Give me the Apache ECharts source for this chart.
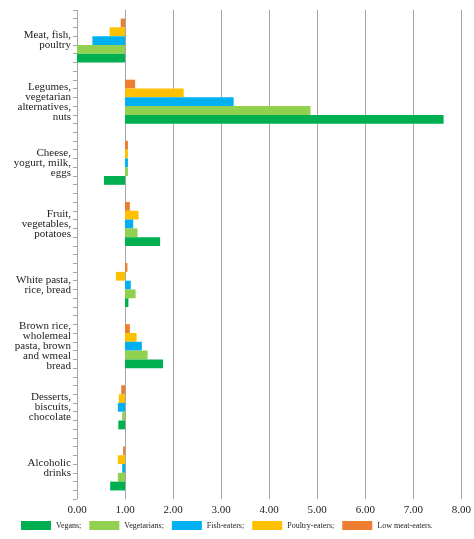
<!DOCTYPE html>
<html>
<head>
    <meta charset="utf-8">
    <title>food ratios</title>
    <style>
        html,body,#myCanvas{ height:100%; width:100%; padding:0; margin:0; background:#fff; }
    </style>
</head>
<body>
    <div id="myCanvas"></div>
    <script src="https://cdn.jsdelivr.net/npm/echarts@6/dist/echarts.min.js"></script>
    <script>
        const categories = ['Meat, fish,\npoultry', 'Legumes,\nvegetarian\nalternatives,\nnuts', 'Cheese,\nyogurt, milk,\neggs',
            'Fruit,\nvegetables,\npotatoes', 'White pasta,\nrice, bread', 'Brown rice,\nwholemeal\npasta, brown\nand wmeal\nbread',
            'Desserts,\nbiscuits,\nchocolate', 'Alcoholic\ndrinks']
        const vegans      = [0.00, 7.63, 0.56, 1.73, 1.07, 1.79, 0.86, 0.69]
        const vegetarians = [0.00, 4.86, 1.06, 1.26, 1.22, 1.47, 0.94, 0.85]
        const fishEaters  = [0.32, 3.26, 1.06, 1.17, 1.12, 1.35, 0.85, 0.94]
        const poultry     = [0.68, 2.22, 1.06, 1.28, 0.81, 1.24, 0.87, 0.85]
        const lowMeat     = [0.91, 1.21, 1.06, 1.10, 1.05, 1.10, 0.92, 0.96]
        const base = 1.0 // bars grow from 1.00

        const names = ['Vegans;', 'Vegetarians;', 'Fish-eaters;', 'Poultry-eaters;', 'Low meat-eaters.']
        const colors = ['#00b050', '#92d050', '#00b0f0', '#ffc000', '#ed7d31']
        const sets = [vegans, vegetarians, fishEaters, poultry, lowMeat]

        // top of each group is low meat-eaters, so push series in reverse
        let series = []
        for (let i = sets.length - 1; i >= 0; i--) {
            series.push({
                name: names[i], type: 'bar', yAxisIndex: 0,
                data: sets[i].map(v => +(v - base).toFixed(3)),
                itemStyle: { color: colors[i] },
                barGap: '0%', barCategoryGap: '28%'
            })
        }

        let chart = echarts.init(document.getElementById('myCanvas'))
        chart.setOption({
            animation: false,
            textStyle: { fontFamily: 'Liberation Serif' },
            grid: { left: 77, right: 12, top: 10, bottom: 40 },
            legend: {
                data: names.slice(), bottom: 4, left: 16, itemGap: 8,
                itemWidth: 30, itemHeight: 9, icon: 'rect',
                textStyle: { fontSize: 8, color: '#222', fontFamily: 'Liberation Serif' }
            },
            xAxis: {
                type: 'value', min: -1, max: 7, interval: 1,
                axisLine: { show: false }, axisTick: { show: false },
                axisLabel: { formatter: v => (v + base).toFixed(2), fontSize: 11, color: '#222', margin: 6 },
                splitLine: { lineStyle: { color: '#a6a6a6', width: 1 } }
            },
            yAxis: [{
                type: 'category', data: categories, inverse: true,
                axisLine: { lineStyle: { color: '#a6a6a6' } }, axisTick: { show: false },
                axisLabel: { fontSize: 11, color: '#222', lineHeight: 10, margin: 6 }
            }, {
                type: 'category', data: new Array(56).fill(''), position: 'left',
                axisLine: { show: false },
                axisTick: { show: true, length: 4, interval: 0, lineStyle: { color: '#a6a6a6' } },
                axisLabel: { show: false }
            }],
            series: series
        })
    </script>
</body>
</html>
